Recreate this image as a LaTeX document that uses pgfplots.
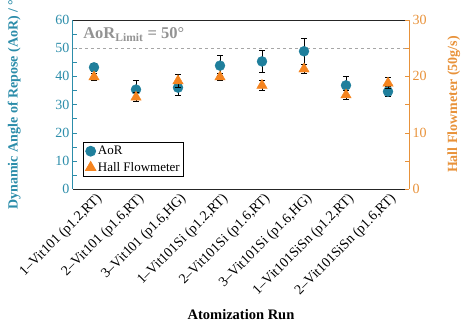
\documentclass[border=0pt]{standalone}
\usepackage{pgfplots}
\pgfplotsset{compat=1.18}
\usepackage{fontspec}
\setmainfont{Liberation Serif}
\definecolor{aorc}{HTML}{1F7F9C}
\definecolor{hfc}{HTML}{F5841F}
\definecolor{axl}{HTML}{2C8DAA}
\definecolor{axr}{HTML}{E8923A}
\begin{document}
\begin{tikzpicture}
\pgfplotsset{
  common/.style={
    scale only axis, width=336pt, height=169pt,
    xmin=0.5, xmax=8.5,
    tick align=inside,
    minor tick length=\pgfkeysvalueof{/pgfplots/major tick length},
    /pgf/number format/assume math mode=true,
    tick label style={font=\fontsize{14}{14}\selectfont},
  },
  errs/.style={
    error bars/.cd, y dir=both, y explicit,
    error mark options={rotate=90, mark size=3pt, black, line width=0.8pt},
    error bar style={black, line width=0.8pt},
  },
}
\begin{axis}[common, name=ax,
  ymin=0, ymax=60,
  axis x line*=box, axis y line*=left,
  y axis line style={axl, line width=1pt},
  x axis line style={black!85, line width=1pt},
  ytick={0,10,...,60}, minor ytick={5,15,...,55},
  y tick style={axl}, minor y tick style={axl},
  yticklabel style={text=axl},
  xtick={1,...,8},
  x tick style={draw=none},
  xticklabels={{1--Vit101 (p1.2,RT)},{2--Vit101 (p1.6,RT)},{3--Vit101 (p1.6,HG)},{1--Vit101Si (p1.2,RT)},{2--Vit101Si (p1.6,RT)},{3--Vit101Si (p1.6,HG)},{1--Vit101SiSn (p1.2,RT)},{2--Vit101SiSn (p1.6,RT)}},
  xticklabel style={rotate=45, anchor=north east, text=black, font=\fontsize{14}{14}\selectfont, inner sep=1pt, yshift=-2pt},
  ylabel={\textbf{Dynamic Angle of Repose (AoR) / °}},
  ylabel style={text=axl, font=\fontsize{14}{14}\selectfont, yshift=28pt},
  xlabel={\textbf{Atomization Run}},
  xlabel style={font=\fontsize{14.5}{14.5}\selectfont, yshift=-7pt},
  legend style={at={(0.03,0.07)}, anchor=south west, draw=black, line width=0.8pt,
    font=\fontsize{13}{13}\selectfont, inner sep=2pt, row sep=2pt},
  legend cell align=left,
]
\addplot[gray!70, dashed, line width=0.9pt, forget plot] coordinates {(0.5,50) (8.5,50)};
\addplot[only marks, mark=*, mark size=5pt, mark options={draw=aorc, fill=aorc}, errs]
  table[x=x, y=y, y error=e] {
x y e
1 43.2 1.3
2 35.3 3.4
3 36.0 2.6
4 43.8 3.5
5 45.3 3.8
6 48.9 4.5
7 36.8 3.2
8 34.6 1.8
};
\addlegendentry{AoR}
\addlegendimage{only marks, mark=triangle*, mark size=6pt, mark options={draw=hfc, fill=hfc}}
\addlegendentry{Hall Flowmeter}
\node[anchor=west, text=gray!85, font=\bfseries\fontsize{16.5}{16.5}\selectfont] at (rel axis cs:0.02,0.915) {AoR\textsubscript{Limit} = 50°};
\end{axis}
\begin{axis}[common,
  ymin=0, ymax=30,
  axis x line=none, axis y line*=right,
  y axis line style={axr, line width=1pt},
  ytick={0,10,20,30}, minor ytick={5,15,25},
  y tick style={axr}, minor y tick style={axr},
  yticklabel style={text=axr},
  ylabel={\textbf{Hall Flowmeter (50g/s)}},
  ylabel style={text=axr, font=\fontsize{14}{14}\selectfont, yshift=-14pt},
]
\addplot[only marks, mark=triangle*, mark size=6pt, mark options={draw=hfc, fill=hfc}, errs]
  table[x=x, y=y, y error=e] {
x y e
1 19.9 0.7
2 16.3 0.8
3 19.2 1.2
4 19.9 0.7
5 18.4 0.9
6 21.3 0.8
7 16.7 0.8
8 18.8 1.0
};
\end{axis}
\pgfresetboundingbox
\path ([shift={(-73pt,-143pt)}]ax.south west) rectangle ([shift={(65pt,20pt)}]ax.north east);
\end{tikzpicture}
\end{document}
